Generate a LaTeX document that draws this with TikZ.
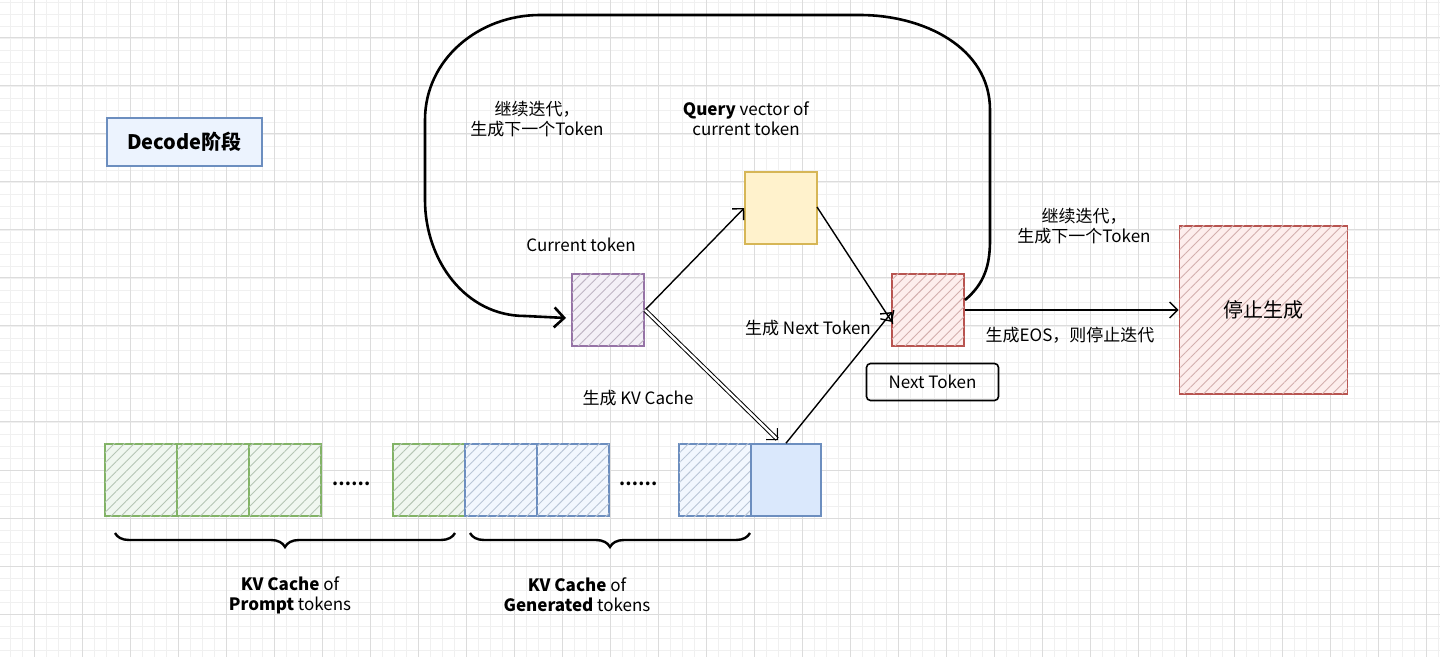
\documentclass[tikz,border=0pt]{standalone}
\usepackage{fontspec}
\setmainfont{Noto Sans CJK SC}
\usetikzlibrary{arrows.meta,patterns.meta,decorations.pathreplacing}
\definecolor{gmin}{HTML}{F0F0F0}
\definecolor{gmaj}{HTML}{DCDCDC}
\definecolor{gB}{HTML}{82B366}\definecolor{gF}{HTML}{D5E8D4}
\definecolor{bB}{HTML}{6C8EBF}\definecolor{bF}{HTML}{DAE8FC}
\definecolor{pB}{HTML}{9673A6}\definecolor{pF}{HTML}{E1D5E7}
\definecolor{rB}{HTML}{B85450}\definecolor{rF}{HTML}{F8CECC}
\definecolor{yB}{HTML}{D6B656}\definecolor{yF}{HTML}{FFF2CC}
\tikzset{
 hat/.style 2 args={draw=#1,line width=0.9pt,fill=#2!35,postaction={pattern={Lines[angle=45,distance=3.5pt,line width=0.45pt]},pattern color=#2!85!black}},
 lab/.style={font=\fontsize{8.5}{10}\selectfont,align=center,inner sep=1pt},
 arr/.style={-{Straight Barb[length=4pt]},line width=0.7pt},
}
\begin{document}
\begin{tikzpicture}[x=0.5pt,y=-0.5pt]
\useasboundingbox (0,0) rectangle (1440,657);
\fill[white] (0,0) rectangle (1440,657);
\foreach \x in {-2,10,...,1440} \draw[gmin,line width=0.3pt] (\x,0)--(\x,657);
\foreach \y in {2,14,...,657} \draw[gmin,line width=0.3pt] (0,\y)--(1440,\y);
\foreach \x in {34,82,...,1440} \draw[gmaj,line width=0.5pt] (\x,0)--(\x,657);
\foreach \y in {38,86,...,657} \draw[gmaj,line width=0.5pt] (0,\y)--(1440,\y);

\node[draw=bB,fill=bF!50,line width=0.8pt,minimum width=77.5pt,minimum height=24pt,font=\bfseries\fontsize{10}{12}\selectfont] (title) at (184.5,142) {Decode阶段};

% boxes
\node[hat={pB}{pF},minimum size=36pt,inner sep=0] (ct) at (608,310) {};
\node[draw=yB,fill=yF,line width=0.8pt,minimum size=36pt,inner sep=0] (q) at (781,208) {};
\node[hat={rB}{rF},minimum size=36pt,inner sep=0] (nt) at (928,310) {};
\node[hat={rB}{rF},minimum size=84pt,inner sep=0,font=\fontsize{10}{12}\selectfont] (stop) at (1263.5,310) {停止生成};
\node[draw,rounded corners=2pt,line width=0.8pt,minimum width=66pt,minimum height=18.5pt,lab] (ntl) at (932.5,382) {Next Token};

% bottom row
\foreach \a/\n in {105/g1,177/g2,249/g3,393/g4}
  \node[hat={gB}{gF},minimum size=36pt,inner sep=0] (\n) at (\a+36,480) {};
\foreach \a/\n in {465/b1,537/b2,679/b3}
  \node[hat={bB}{bF},minimum size=36pt,inner sep=0] (\n) at (\a+36,480) {};
\node[draw=bB,fill=bF,line width=0.8pt,minimum width=35pt,minimum height=36pt,inner sep=0] (bn) at (786,480) {};
\node[lab] (d1) at (351,484) {\textbf{……}};
\node[lab] (d2) at (638,484) {\textbf{……}};

\draw[decorate,decoration={brace,mirror,amplitude=7pt},line width=1.2pt] (115,533)--(455,533);
\draw[decorate,decoration={brace,mirror,amplitude=7pt},line width=1.2pt] (470,533)--(750,533);
\node[lab] (l1) at (290,595) {\textbf{KV Cache} of\\\textbf{Prompt} tokens};
\node[lab] (l2) at (577,595) {\textbf{KV Cache} of\\\textbf{Generated} tokens};

% labels
\node[lab] (lc) at (581,245) {Current token};
\node[lab] (lq) at (746,119) {\textbf{Query} vector of\\current token};
\node[lab] (lk) at (537,119) {继续迭代，\\生成下一个Token};
\node[lab] (lk2) at (1084,226) {继续迭代，\\生成下一个Token};
\node[lab] (le) at (1070,335) {生成EOS，则停止迭代};
\node[lab] (ln) at (808,328) {生成 Next Token};
\node[lab] (lv) at (638,398) {生成 KV Cache};

% arrows
\coordinate (cr) at (645,310);
\draw[arr] (cr) -- (q.west);
\draw[arr] (817,207) -- (892,322);
\draw[arr,double,double distance=1.2pt,line width=0.5pt] (cr) -- (778,440);
\draw[arr] (bn.north) -- (892,312);
\draw[arr] (nt.east) -- (stop.west);
\draw[-{Straight Barb[length=5pt]},line width=1.3pt] (965,300) to[out=40,in=-90] (990,240) -- (990,110) to[out=90,in=0] (860,15) -- (540,15) to[out=180,in=90] (425,120) -- (425,200) to[out=-90,in=180] (525,316) -- (566,318);
\end{tikzpicture}
\end{document}
